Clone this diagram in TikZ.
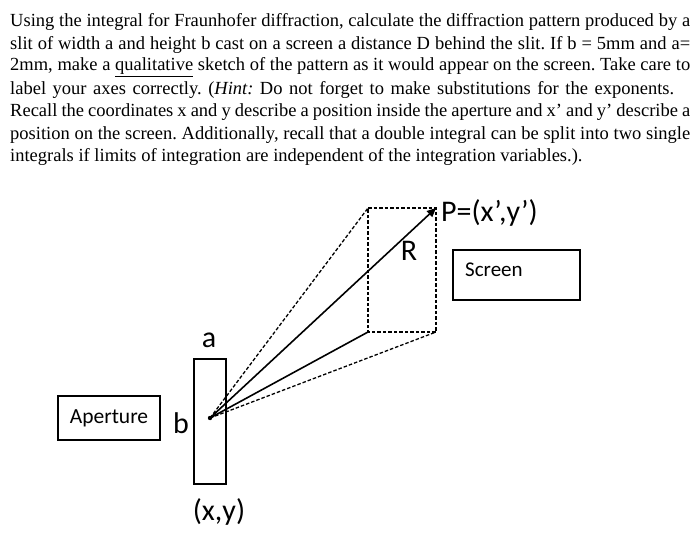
\documentclass[tikz,border=0pt]{standalone}
\usepackage{fontspec}
\setmainfont{Liberation Serif}
\newfontfamily\diag{Carlito}
\usetikzlibrary{arrows.meta}
\frenchspacing
\begin{document}
\begin{tikzpicture}[x=1pt,y=-1pt,
  txt/.style={anchor=west,inner sep=0pt,font=\fontsize{18.5}{20}\selectfont},
  lbl/.style={inner sep=0pt,font=\diag\fontsize{30}{32}\selectfont},
  box/.style={draw,line width=1.1pt},
  dsh/.style={line width=1.3pt,dash pattern=on 3.5pt off 2pt},
  sol/.style={line width=1.6pt}]
\useasboundingbox (0,0) rectangle (700,535);
\node[txt] (l1) at (10,22) {\makebox[680pt][s]{Using the integral for Fraunhofer diffraction, calculate the diffraction pattern produced by a}};
\node[txt] (l2) at (10,45) {\makebox[680pt][s]{slit of width a and height b cast on a screen a distance D behind the slit. If b = 5mm and a=}};
\node[txt] (l3) at (10,67) {\makebox[680pt][s]{2mm, make a \underline{qualitative} sketch of the pattern as it would appear on the screen. Take care to}};
\node[txt] (l4) at (10,90) {\makebox[664pt][s]{label your axes correctly. (\textit{Hint:} Do not forget to make substitutions for the exponents.}};
\node[txt] (l5) at (10,112) {\makebox[680pt][s]{Recall the coordinates x and y describe a position inside the aperture and x’ and y’ describe a}};
\node[txt] (l6) at (10,135) {\makebox[680pt][s]{position on the screen. Additionally, recall that a double integral can be split into two single}};
\node[txt] (l7) at (10,157) {integrals if limits of integration are independent of the integration variables.).};

\coordinate (o) at (210,418);
\coordinate (tl) at (368,208);
\coordinate (tr) at (436,208);
\coordinate (bl) at (368,332);
\coordinate (br) at (436,332);
\draw[dsh] (tl) -- (tr) -- (br) -- (bl) -- cycle;
\draw[dsh] (o) -- (tl);
\draw[dsh] (o) -- (br);
\draw[sol] (o) -- (bl);
\draw[sol,-{Triangle[length=9pt,width=8pt]}] (o) -- (tr);
\fill (o) circle (2.2pt);

\node[box,minimum width=32pt,minimum height=125pt,inner sep=0pt] (slit) at (210,421.5) {};
\node[box,minimum width=102pt,minimum height=44pt,inner sep=0pt,font=\diag\fontsize{21.5}{23}\selectfont] (ap) at (109,418) {Aperture};
\node[box,minimum width=127pt,minimum height=50pt,inner sep=0pt] (scr) at (516.5,275) {};
\node[anchor=west,inner sep=0pt,font=\diag\fontsize{21}{23}\selectfont] (scrt) at (465,270) {Screen};
\node[lbl] (a) at (209,340) {a};
\node[lbl] (b) at (181,423) {b};
\node[lbl] (R) at (409,251) {R};
\node[lbl,anchor=west] (P) at (441,213) {P=(x’,y’)};
\node[lbl] (xy) at (219,512) {(x,y)};
\end{tikzpicture}
\end{document}
